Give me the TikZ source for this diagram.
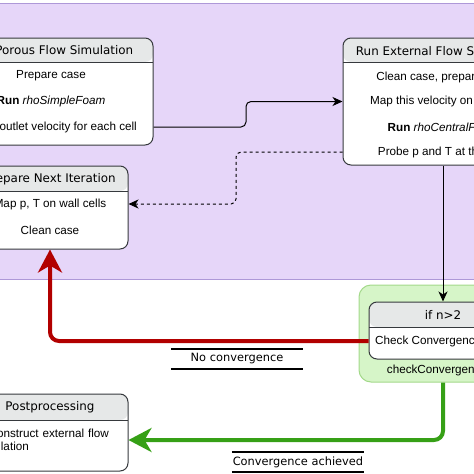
\documentclass[tikz,border=0pt]{standalone}
\usepackage{fontspec}
\setmainfont{Liberation Sans}
\newfontfamily\hdrfont{DejaVu Sans}
\usetikzlibrary{arrows.meta}
\definecolor{bandfill}{HTML}{E6D6F9}
\definecolor{banddraw}{HTML}{AE98D8}
\definecolor{hdrgray}{HTML}{E6E8E8}
\definecolor{boxdraw}{HTML}{36393D}
\definecolor{grpfill}{HTML}{D6F5C8}
\definecolor{grpdraw}{HTML}{A3D98A}
\definecolor{noconv}{HTML}{B20000}
\definecolor{yesconv}{HTML}{36A016}
\begin{document}
\begin{tikzpicture}[x=1pt,y=-1pt,
  font=\fontsize{11.7}{13}\selectfont,
  lane/.style={draw=boxdraw,line width=1pt,fill=white,rounded corners=8pt,inner sep=0pt,
    path picture={
      \fill[hdrgray] (path picture bounding box.north west)
        rectangle ([yshift=-#1]path picture bounding box.north east);
      \draw[boxdraw,line width=1pt] ([yshift=-#1]path picture bounding box.north west)
        -- ([yshift=-#1]path picture bounding box.north east);}},
  hdr/.style={font=\hdrfont\fontsize{11.9}{13}\selectfont,inner sep=0pt},
  row/.style={inner sep=0pt},
  flow/.style={draw=black,line width=1pt,rounded corners=5pt,
    -{Stealth[length=10pt,width=9pt,inset=3pt]}},
  thick flow/.style={line width=4pt,rounded corners=9pt,
    -{Stealth[length=23pt,width=24pt,inset=7pt]}},
  lbl/.style={font=\hdrfont\fontsize{11.4}{13}\selectfont,minimum width=132pt,
    minimum height=20pt,inner sep=0pt},
  rule/.style={line width=1.6pt}]
  \useasboundingbox (0,0) rectangle (474,474);
  \clip (0,0) rectangle (474,474);
  % 迭代区域
  \node[fill=bandfill,draw=banddraw,line width=1pt,minimum width=500pt,
    minimum height=276pt,inner sep=0pt] (iterband) at (237,141) {};
  % 多孔流动
  \node[lane=24pt,minimum width=204pt,minimum height=107pt] (porous) at (51,91.5) {};
  \node[hdr] (porous-t) at (51,50.5) {Run Porous Flow Simulation};
  \node[row] (porous-r1) at (51,76) {Prepare case};
  \node[row] (porous-r2) at (51,101.5) {\textbf{Run} \textit{rhoSimpleFoam}};
  \node[row] (porous-r3) at (51,127) {Probe outlet velocity for each cell};
  % 外部流动
  \node[lane=24pt,minimum width=200pt,minimum height=127pt] (extern) at (443,101.5) {};
  \node[hdr] (extern-t) at (443,51.5) {Run External Flow Simulation};
  \node[row] (extern-r1) at (443,77) {Clean case, prepare case};
  \node[row] (extern-r2) at (443,101.5) {Map this velocity on the wall};
  \node[row] (extern-r3) at (443,127) {\textbf{Run} \textit{rhoCentralFoam}};
  \node[row] (extern-r4) at (443,152) {Probe p and T at the wall};
  % 下一次迭代
  \node[lane=25pt,minimum width=156pt,minimum height=83pt] (nextit) at (50,207.5) {};
  \node[hdr] (nextit-t) at (50,179.5) {Prepare Next Iteration};
  \node[row] (nextit-r1) at (50,204) {Map p, T on wall cells};
  \node[row] (nextit-r2) at (50,230) {Clean case};
  % 收敛判断
  \node[fill=grpfill,draw=grpdraw,line width=1pt,rounded corners=12pt,
    minimum width=168pt,minimum height=97pt,inner sep=0pt] (group) at (443,333.5) {};
  \node[lane=25pt,minimum width=148pt,minimum height=57pt] (check) at (443,330.5) {};
  \node[hdr] (check-t) at (443,314.5) {if n>2};
  \node[row,anchor=west] (check-r1) at (375,341) {Check Convergence};
  \node[row] (group-t) at (437,370) {checkConvergence};
  % 后处理
  \node[lane=26pt,minimum width=156pt,minimum height=77pt] (post) at (50,432.5) {};
  \node[hdr] (post-t) at (50,407.5) {Postprocessing};
  \node[row,anchor=north west,text width=148pt,align=left] (post-r1) at (-24,428.5)
    {Reconstruct external flow simulation};
  % 连线
  \coordinate (bend1) at (246,114);
  \coordinate (bend2) at (236,178);
  \coordinate (bend3) at (443,440);
  \draw[flow] (porous.east |- porous-r3) -- (bend1 |- porous-r3)
    -- (bend1 |- extern-r2) -- (extern.west |- extern-r2);
  \draw[flow,dash pattern=on 3pt off 3pt] (extern.west |- extern-r4) -- (bend2 |- extern-r4)
    -- (bend2 |- nextit-r1) -- (nextit.east |- nextit-r1);
  \draw[flow] (extern.south) -- (check.north);
  \draw[thick flow,noconv] (check.west |- check-r1) -| (nextit.south);
  \draw[thick flow,yesconv] (group.south) -- (bend3) -- (post.east |- bend3);
  % 标签
  \node[lbl] (noconv-l) at (237,359) {No convergence};
  \draw[rule] (noconv-l.north west) -- (noconv-l.north east);
  \draw[rule] (noconv-l.south west) -- (noconv-l.south east);
  \node[lbl] (yesconv-l) at (298,462) {Convergence achieved};
  \draw[rule] (yesconv-l.north west) -- (yesconv-l.north east);
  \draw[rule] (yesconv-l.south west) -- (yesconv-l.south east);
\end{tikzpicture}
\end{document}
